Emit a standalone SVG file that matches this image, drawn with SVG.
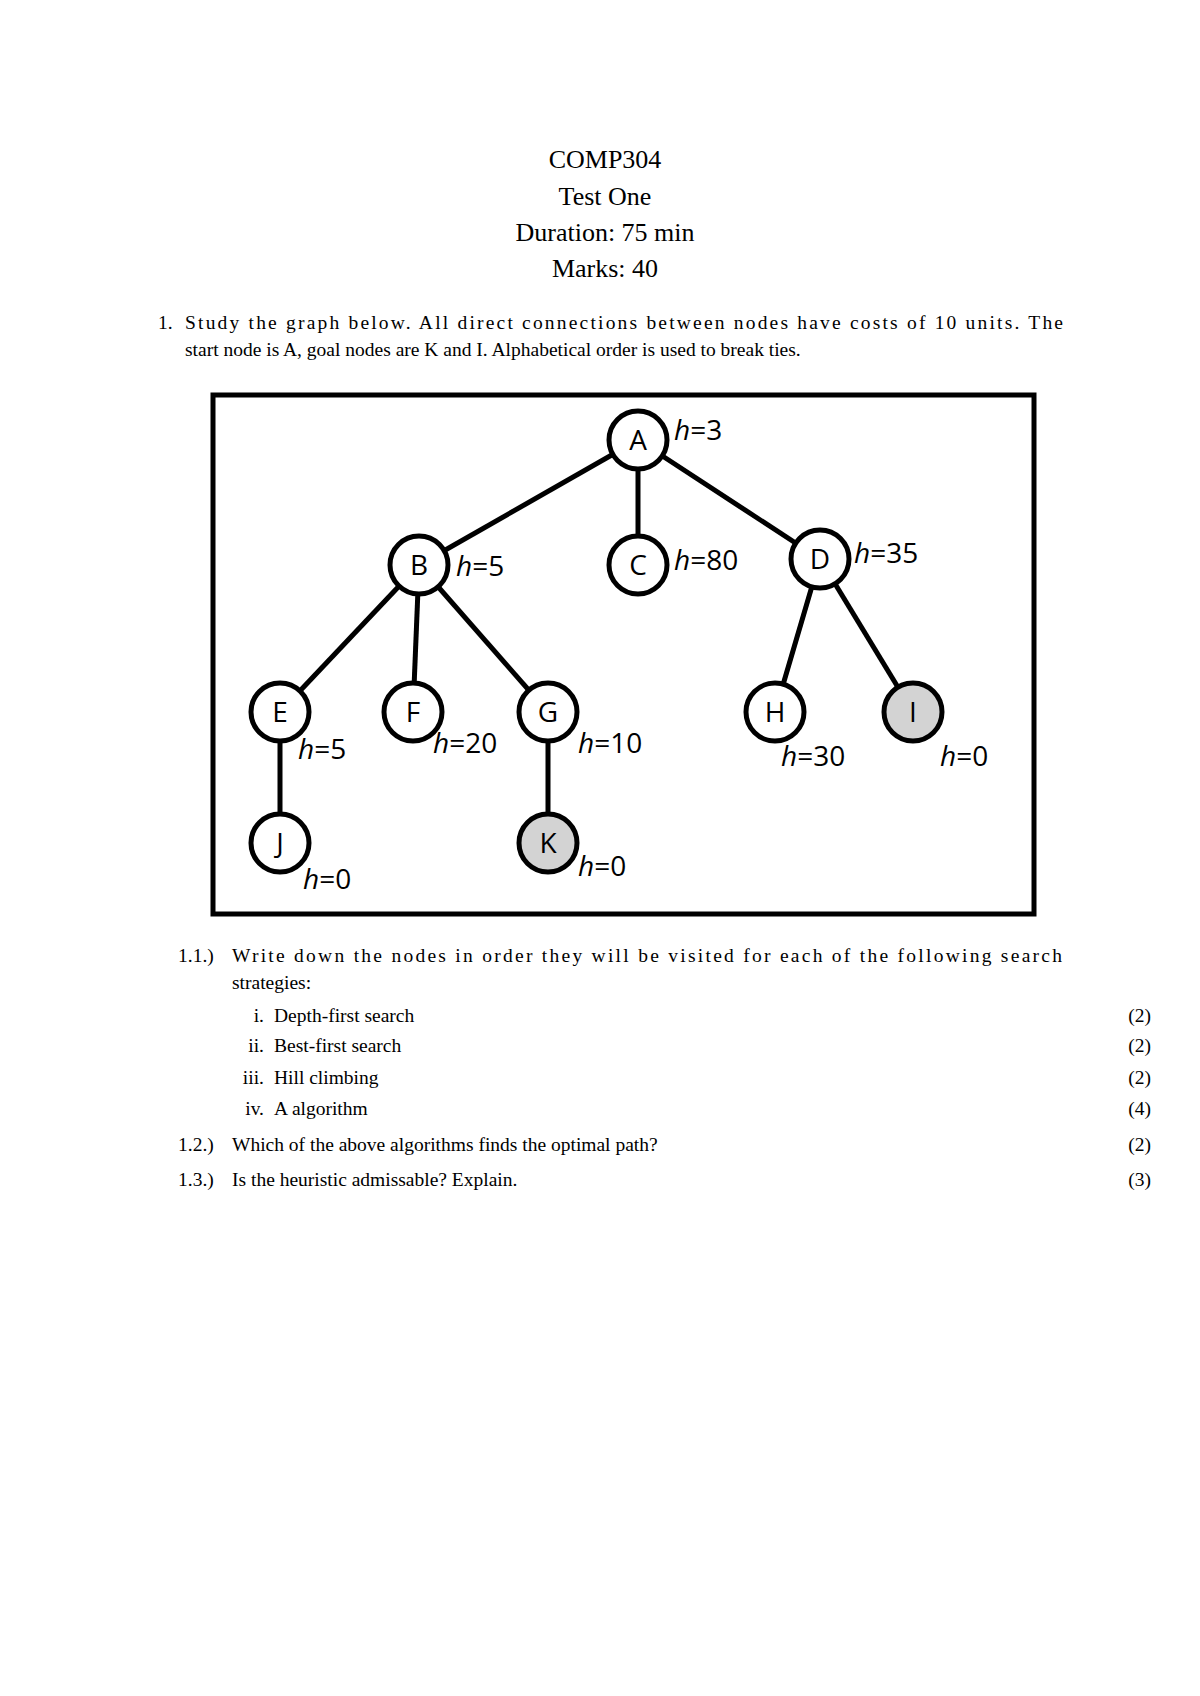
<svg xmlns="http://www.w3.org/2000/svg" width="1200" height="1696" viewBox="0 0 1200 1696">
<style>
.t{font-family:"Liberation Serif",serif;fill:#000}
.ti{font-size:26px;text-anchor:middle}
.b{font-size:19.5px}
.n circle{fill:#fff;stroke:#000;stroke-width:5}
.n.g circle{fill:#d3d3d3}
.n text{font-family:"Open Sans","DejaVu Sans",sans-serif;font-size:28px;text-anchor:middle;fill:#000}
.h{font-family:"Open Sans","DejaVu Sans",sans-serif;font-size:28px;fill:#000}
.h tspan.i{font-style:italic}
#edges line{stroke:#000;stroke-width:5}
</style>
<rect width="1200" height="1696" fill="#fff"/>
<text class="t ti" x="605" y="168">COMP304</text>
<text class="t ti" x="605" y="205">Test One</text>
<text class="t ti" x="605" y="241">Duration: 75 min</text>
<text class="t ti" x="605" y="277">Marks: 40</text>
<text class="t b" x="158" y="329">1.</text>
<text class="t b" x="185" y="329" textLength="878" lengthAdjust="spacing">Study the graph below. All direct connections between nodes have costs of 10 units. The</text>
<text class="t b" x="185" y="356">start node is A, goal nodes are K and I. Alphabetical order is used to break ties.</text>
<rect x="213" y="395" width="821" height="519" fill="none" stroke="#000" stroke-width="5"/>
<g id="edges">
<line x1="638" y1="440" x2="419" y2="565"/>
<line x1="638" y1="440" x2="638" y2="565"/>
<line x1="638" y1="440" x2="820" y2="559"/>
<line x1="419" y1="565" x2="280" y2="712"/>
<line x1="419" y1="565" x2="413" y2="712"/>
<line x1="419" y1="565" x2="548" y2="712"/>
<line x1="820" y1="559" x2="775" y2="712"/>
<line x1="820" y1="559" x2="913" y2="712"/>
<line x1="280" y1="712" x2="280" y2="843"/>
<line x1="548" y1="712" x2="548" y2="843"/>
</g>
<g id="A" class="n"><circle cx="638" cy="440" r="29"/><text x="638" y="450">A</text></g>
<g id="B" class="n"><circle cx="419" cy="565" r="29"/><text x="419" y="575">B</text></g>
<g id="C" class="n"><circle cx="638" cy="565" r="29"/><text x="638" y="575">C</text></g>
<g id="D" class="n"><circle cx="820" cy="559" r="29"/><text x="820" y="569">D</text></g>
<g id="E" class="n"><circle cx="280" cy="712" r="29"/><text x="280" y="722">E</text></g>
<g id="F" class="n"><circle cx="413" cy="712" r="29"/><text x="413" y="722">F</text></g>
<g id="G" class="n"><circle cx="548" cy="712" r="29"/><text x="548" y="722">G</text></g>
<g id="H" class="n"><circle cx="775" cy="712" r="29"/><text x="775" y="722">H</text></g>
<g id="I" class="n g"><circle cx="913" cy="712" r="29"/><text x="913" y="722">I</text></g>
<g id="J" class="n"><circle cx="280" cy="843" r="29"/><text x="280" y="853">J</text></g>
<g id="K" class="n g"><circle cx="548" cy="843" r="29"/><text x="548" y="853">K</text></g>
<text class="h" x="674" y="440"><tspan class="i">h</tspan>=3</text>
<text class="h" x="456" y="576"><tspan class="i">h</tspan>=5</text>
<text class="h" x="674" y="570"><tspan class="i">h</tspan>=80</text>
<text class="h" x="854" y="563"><tspan class="i">h</tspan>=35</text>
<text class="h" x="298" y="759"><tspan class="i">h</tspan>=5</text>
<text class="h" x="433" y="753"><tspan class="i">h</tspan>=20</text>
<text class="h" x="578" y="753"><tspan class="i">h</tspan>=10</text>
<text class="h" x="781" y="766"><tspan class="i">h</tspan>=30</text>
<text class="h" x="940" y="766"><tspan class="i">h</tspan>=0</text>
<text class="h" x="303" y="889"><tspan class="i">h</tspan>=0</text>
<text class="h" x="578" y="876"><tspan class="i">h</tspan>=0</text>
<text class="t b" x="178" y="962">1.1.)</text>
<text class="t b" x="232" y="962" textLength="830" lengthAdjust="spacing">Write down the nodes in order they will be visited for each of the following search</text>
<text class="t b" x="232" y="989">strategies:</text>
<text class="t b" x="264" y="1022" text-anchor="end">i.</text><text class="t b" x="274" y="1022">Depth-first search</text><text class="t b" x="1151" y="1022" text-anchor="end">(2)</text>
<text class="t b" x="264" y="1052" text-anchor="end">ii.</text><text class="t b" x="274" y="1052">Best-first search</text><text class="t b" x="1151" y="1052" text-anchor="end">(2)</text>
<text class="t b" x="264" y="1084" text-anchor="end">iii.</text><text class="t b" x="274" y="1084">Hill climbing</text><text class="t b" x="1151" y="1084" text-anchor="end">(2)</text>
<text class="t b" x="264" y="1115" text-anchor="end">iv.</text><text class="t b" x="274" y="1115">A algorithm</text><text class="t b" x="1151" y="1115" text-anchor="end">(4)</text>
<text class="t b" x="178" y="1151">1.2.)</text><text class="t b" x="232" y="1151">Which of the above algorithms finds the optimal path?</text><text class="t b" x="1151" y="1151" text-anchor="end">(2)</text>
<text class="t b" x="178" y="1186">1.3.)</text><text class="t b" x="232" y="1186">Is the heuristic admissable? Explain.</text><text class="t b" x="1151" y="1186" text-anchor="end">(3)</text>
</svg>
